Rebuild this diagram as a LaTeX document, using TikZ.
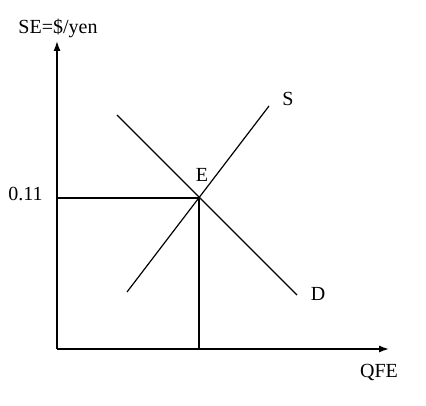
\documentclass[tikz,border=0pt]{standalone}
\usepackage{fontspec}
\setmainfont{Liberation Serif}
\usetikzlibrary{arrows.meta, positioning, calc}

\begin{document}
\begin{tikzpicture}[
        x=0.5pt, y=0.5pt,
        lbl/.style={inner sep=0pt, font=\fontsize{10}{12}\selectfont},
        axis/.style={-{Latex[length=5pt, width=3.5pt]}, line width=0.7pt},
        curve/.style={line width=0.6pt}
        ]
        \useasboundingbox (0,0) rectangle (426,405);

        \coordinate (O) at (57,56);
        \coordinate (ytop) at (57,364);
        \coordinate (xend) at (389,56);
        \coordinate (E) at (199,207);
        \coordinate (Ey) at (57,207);
        \coordinate (Ex) at (199,56);
        \coordinate (S1) at (127,113);
        \coordinate (S2) at (269,299);
        \coordinate (D1) at (117,290);
        \coordinate (D2) at (297,110);

        \node (se) [lbl] at (58,377) {SE=\$/yen};
        \node (qfe) [lbl] at (379,32) {QFE};
        \node (rate) [lbl, anchor=east] at (43,211) {0.11};
        \node (elbl) [lbl] at (202,230) {E};
        \node (slbl) [lbl] at (288,306) {S};
        \node (dlbl) [lbl] at (318,111) {D};

        \draw [axis] (O) -- (ytop);
        \draw [axis] (O) -- (xend);
        \draw [curve] (Ey) -- (E) -- (Ex);
        \draw [curve] (S1) -- (S2);
        \draw [curve] (D1) -- (D2);
    \end{tikzpicture}
\end{document}
